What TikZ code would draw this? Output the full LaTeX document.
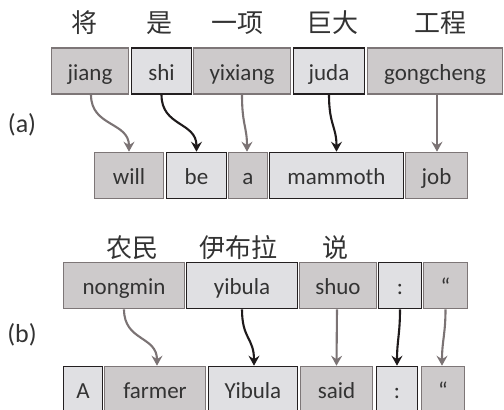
\documentclass[tikz,border=0pt]{standalone}
\usepackage{fontspec}
\setmainfont{Carlito}
\newfontfamily\cjk{Noto Sans CJK SC}
\usetikzlibrary{arrows.meta}
\definecolor{dkfill}{HTML}{CDCACB}
\definecolor{dkline}{HTML}{7D7677}
\definecolor{ltfill}{HTML}{E0E0E3}
\definecolor{ltline}{HTML}{231F20}
\definecolor{txt}{HTML}{333333}
\definecolor{garrow}{HTML}{7B7374}
\definecolor{barrow}{HTML}{1E1A1B}
\begin{document}
\begin{tikzpicture}[x=1pt,y=-1pt,
  box/.style={rectangle, inner sep=0pt, line width=1.6pt, minimum height=46pt,
    text height=18pt, text depth=0pt, font=\fontsize{23}{23}\selectfont, text=txt},
  dk/.style={box, fill=dkfill, draw=dkline},
  lt/.style={box, fill=ltfill, draw=ltline},
  zh/.style={font=\cjk\fontsize{26}{26}\selectfont, text=txt, inner sep=0pt},
  tag/.style={font=\fontsize{26}{26}\selectfont, text=txt, inner sep=0pt},
  ga/.style={draw=garrow, line width=2.1pt, -{Stealth[length=10pt,width=11pt,inset=3.5pt]}},
  ba/.style={draw=barrow, line width=2.1pt, -{Stealth[length=10pt,width=11pt,inset=3.5pt]}}]
\useasboundingbox (0,0) rectangle (504,410);
\clip (0,0) rectangle (504,410);
% (a) Chinese labels
\node[zh] (za1) at (84,23) {将};
\node[zh] (za2) at (159,23) {是};
\node[zh] (za3) at (237,23) {一项};
\node[zh] (za4) at (332,23) {巨大};
\node[zh] (za5) at (440,23) {工程};
% (a) top row
\node[dk, minimum width=77pt] (jiang) at (90,71) {jiang};
\node[lt, minimum width=60pt] (shi) at (161.5,71) {shi};
\node[dk, minimum width=97pt] (yixiang) at (242,71) {yixiang};
\node[lt, minimum width=71pt] (juda) at (329,71) {juda};
\node[dk, minimum width=135pt] (gongcheng) at (435,71) {gongcheng};
% (a) bottom row
\node[dk, minimum width=69pt] (will) at (129,175.5) {will};
\node[lt, minimum width=60pt] (be) at (196.5,175.5) {be};
\node[dk, minimum width=39pt] (a) at (248,175.5) {a};
\node[lt, minimum width=134pt] (mammoth) at (336.5,175.5) {mammoth};
\node[dk, minimum width=62pt] (job) at (436.5,175.5) {job};
\node[tag] (taga) at (22,125) {(a)};
% (a) arrows
\draw[ga] ([xshift=1pt]jiang.south) .. controls +(0,32) and +(0,-30) .. (will.north);
\draw[ba] (shi.south) .. controls +(0,32) and +(0,-30) .. (be.north);
\draw[ga] (yixiang.south) .. controls +(0,30) and +(0,-25) .. ([xshift=-1pt]a.north);
\draw[ba] (juda.south) .. controls +(0,30) and +(0,-25) .. (mammoth.north);
\draw[ga] ([xshift=2pt]gongcheng.south) -- ([xshift=0.5pt]job.north);
% (b) Chinese labels
\node[zh] (zb1) at (132,248) {农民};
\node[zh] (zb2) at (238,248) {伊布拉};
\node[zh] (zb3) at (335,248) {说};
% (b) top row
\node[dk, minimum width=121pt] (nongmin) at (124,285.5) {nongmin};
\node[lt, minimum width=111pt] (yibula) at (242,285.5) {yibula};
\node[dk, minimum width=77pt] (shuo) at (338,285.5) {shuo};
\node[lt, minimum width=43pt] (colA) at (400,285.5) {:};
\node[dk, minimum width=44pt] (quoA) at (445.5,285.5) {“};
% (b) bottom row
\node[lt, minimum width=39pt] (Aw) at (83,389.5) {A};
\node[dk, minimum width=101pt] (farmer) at (155,389.5) {farmer};
\node[lt, minimum width=89pt] (Yibula) at (253,389.5) {Yibula};
\node[dk, minimum width=72pt] (said) at (336.5,389.5) {said};
\node[lt, minimum width=41pt] (colB) at (397,389.5) {:};
\node[dk, minimum width=43pt] (quoB) at (443,389.5) {“};
\node[tag] (tagb) at (22,335) {(b)};
% (b) arrows
\draw[ga] (nongmin.south) .. controls +(0,32) and +(0,-30) .. ([xshift=2pt]farmer.north);
\draw[ba] (yibula.south) .. controls +(0,30) and +(0,-28) .. ([xshift=1pt]Yibula.north);
\draw[ga] ([xshift=-1pt]shuo.south) -- (said.north);
\draw[ba] (colA.south) .. controls +(0,25) and +(0,-25) .. (colB.north);
\draw[ga] (quoA.south) .. controls +(0,25) and +(0,-25) .. ([xshift=-1pt]quoB.north);
\end{tikzpicture}
\end{document}
